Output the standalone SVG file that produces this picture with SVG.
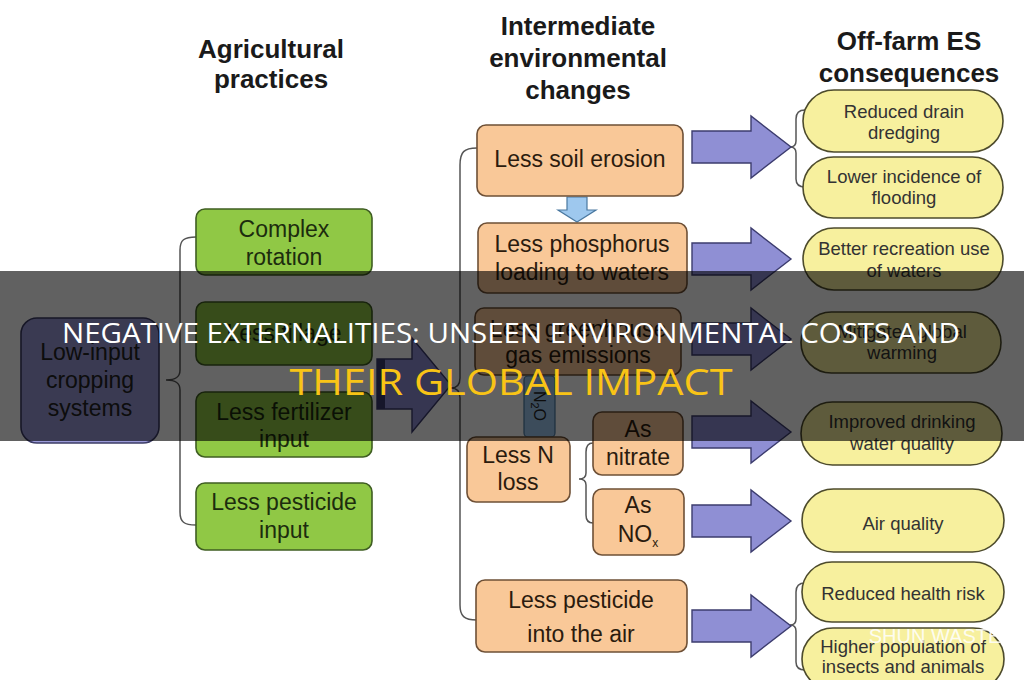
<svg xmlns="http://www.w3.org/2000/svg" width="1024" height="680" viewBox="0 0 1024 680">
<defs>
<style>
.hdr{font-family:"Liberation Sans",Arial,sans-serif;font-weight:bold;font-size:26px;fill:#1a1a1a;text-anchor:middle}
.gbox{fill:#90c845;stroke:#3f5e22;stroke-width:1.6}
.gtxt{font-family:"Liberation Sans",Arial,sans-serif;font-size:23px;fill:#1c2c0e;text-anchor:middle}
.obox{fill:#f9c898;stroke:#6e5036;stroke-width:1.6}
.otxt{font-family:"Liberation Sans",Arial,sans-serif;font-size:23px;fill:#2b1b0e;text-anchor:middle}
.pbox{fill:#9a9ad8;stroke:#3c3c66;stroke-width:1.6}
.ptxt{font-family:"Liberation Sans",Arial,sans-serif;font-size:23px;fill:#222;text-anchor:middle}
.pill{fill:#f7f09e;stroke:#4d4b2c;stroke-width:1.6}
.ytxt{font-family:"Liberation Sans",Arial,sans-serif;font-size:18.5px;fill:#333;text-anchor:middle}
.arr{fill:#8f8fd4;stroke:#3c3c6e;stroke-width:1.4}
.barr{fill:#9ec8ee;stroke:#4a78a0;stroke-width:1.2}
.brace{fill:none;stroke:#555;stroke-width:1.5}
</style>
</defs>
<rect width="1024" height="680" fill="#ffffff"/>

<g id="headers">
<text class="hdr" x="271" y="58">Agricultural</text>
<text class="hdr" x="271" y="88">practices</text>
<text class="hdr" x="578" y="35">Intermediate</text>
<text class="hdr" x="578" y="67">environmental</text>
<text class="hdr" x="578" y="99">changes</text>
<text class="hdr" x="909" y="50">Off-farm ES</text>
<text class="hdr" x="909" y="82">consequences</text>
</g>

<g id="connectors">
<path class="brace" d="M196,237 C184,237 180,240 180,250 L180,370 C180,377 176,380 166,380 C176,380 180,383 180,390 L180,512 C180,522 184,525 196,525"/>
<path class="brace" d="M477,148 C464,148 460,152 460,165 L460,378 C460,385 456,388 451,388 C456,388 460,391 460,398 L460,605 C460,616 464,620 477,620"/>
<path class="brace" d="M593,443 C588,443 586,446 586,452 L586,473 C586,477 584,479 579,479 C584,479 586,481 586,485 L586,515 C586,520 588,523 593,523"/>
<path class="brace" d="M805,110 C799,110 796,113 796,119 L796,141 C796,145 794,147 790,147 C794,147 796,149 796,153 L796,179 C796,184 799,187 805,187"/>
<path class="brace" d="M805,583 C799,583 796,586 796,592 L796,619 C796,623 794,625 790,625 C794,625 796,627 796,631 L796,662 C796,667 799,670 805,670"/>
<polygon class="arr" points="377,359 412,359 412,338 451,385 412,432 412,409 377,409"/>
<rect x="377" y="359" width="8" height="50" fill="#3c3c6e"/>
<polygon class="barr" points="567,197 587,197 587,210 596,210 577,222 558,210 567,210"/>
<polygon class="arr" points="692,131 751,131 751,116 791,147 751,178 751,163 692,163"/>
<polygon class="arr" points="692,243 751,243 751,228 791,259 751,290 751,275 692,275"/>
<polygon class="arr" points="692,323 751,323 751,308 791,339 751,370 751,355 692,355"/>
<polygon class="arr" points="692,416 751,416 751,401 791,432 751,463 751,448 692,448"/>
<polygon class="arr" points="692,505 751,505 751,490 791,521 751,552 751,537 692,537"/>
<polygon class="arr" points="692,610 751,610 751,595 791,626 751,657 751,642 692,642"/>
</g>

<g id="low-input">
<rect class="pbox" x="21" y="318" width="138" height="125" rx="16"/>
<text class="ptxt" x="90" y="360">Low-input</text>
<text class="ptxt" x="90" y="388">cropping</text>
<text class="ptxt" x="90" y="416">systems</text>
</g>

<g id="complex-rotation">
<rect class="gbox" x="196" y="209" width="176" height="66" rx="9"/>
<text class="gtxt" x="284" y="237">Complex</text>
<text class="gtxt" x="284" y="265">rotation</text>
</g>
<g id="less-tillage">
<rect class="gbox" x="196" y="302" width="176" height="63" rx="9"/>
<text class="gtxt" x="284" y="341">Less tillage</text>
</g>
<g id="less-fertilizer">
<rect class="gbox" x="196" y="392" width="176" height="65" rx="9"/>
<text class="gtxt" x="284" y="420">Less fertilizer</text>
<text class="gtxt" x="284" y="447">input</text>
</g>
<g id="less-pesticide-input">
<rect class="gbox" x="196" y="483" width="176" height="67" rx="9"/>
<text class="gtxt" x="284" y="510">Less pesticide</text>
<text class="gtxt" x="284" y="538">input</text>
</g>

<g id="soil-erosion">
<rect class="obox" x="477" y="125" width="206" height="71" rx="9"/>
<text class="otxt" x="580" y="167">Less soil erosion</text>
</g>
<g id="phosphorus">
<rect class="obox" x="478" y="223" width="209" height="70" rx="9"/>
<text class="otxt" x="582" y="252">Less phosphorus</text>
<text class="otxt" x="582" y="280">loading to waters</text>
</g>
<g id="greenhouse">
<rect class="obox" x="475" y="308" width="206" height="67" rx="9"/>
<text class="otxt" x="578" y="337">Less greenhouse</text>
<text class="otxt" x="578" y="363">gas emissions</text>
</g>
<g id="n2o">
<rect class="barr" x="524" y="376" width="31" height="61" rx="4"/>
<text font-family="Liberation Sans, Arial, sans-serif" font-size="16" fill="#222" text-anchor="middle" transform="translate(534,406) rotate(90)">N<tspan font-size="11" dy="3">2</tspan><tspan dy="-3">O</tspan></text>
</g>
<g id="less-n-loss">
<rect class="obox" x="467" y="437" width="103" height="65" rx="9"/>
<text class="otxt" x="518" y="463">Less N</text>
<text class="otxt" x="518" y="490">loss</text>
</g>
<g id="as-nitrate">
<rect class="obox" x="593" y="412" width="90" height="63" rx="9"/>
<text class="otxt" x="638" y="437">As</text>
<text class="otxt" x="638" y="465">nitrate</text>
</g>
<g id="as-nox">
<rect class="obox" x="593" y="489" width="91" height="66" rx="9"/>
<text class="otxt" x="638" y="513">As</text>
<text class="otxt" x="638" y="542">NO<tspan font-size="12" dy="5">x</tspan></text>
</g>
<g id="pesticide-air">
<rect class="obox" x="476" y="580" width="211" height="72" rx="9"/>
<text class="otxt" x="581" y="608" font-size="24">Less pesticide</text>
<text class="otxt" x="581" y="642" font-size="24">into the air</text>
</g>

<g id="drain">
<rect class="pill" x="803" y="90" width="200" height="62" rx="31"/>
<text class="ytxt" x="904" y="118">Reduced drain</text>
<text class="ytxt" x="904" y="139">dredging</text>
</g>
<g id="flooding">
<rect class="pill" x="803" y="157" width="200" height="61" rx="30.5"/>
<text class="ytxt" x="904" y="183">Lower incidence of</text>
<text class="ytxt" x="904" y="204">flooding</text>
</g>
<g id="recreation">
<rect class="pill" x="803" y="228" width="200" height="62" rx="31"/>
<text class="ytxt" x="904" y="255">Better recreation use</text>
<text class="ytxt" x="904" y="277">of waters</text>
</g>
<g id="warming">
<rect class="pill" x="801" y="312" width="200" height="61" rx="30.5"/>
<text class="ytxt" x="902" y="338">Mitigated global</text>
<text class="ytxt" x="902" y="359">warming</text>
</g>
<g id="drinking">
<rect class="pill" x="801" y="402" width="201" height="63" rx="31.5"/>
<text class="ytxt" x="902" y="428">Improved drinking</text>
<text class="ytxt" x="902" y="450">water quality</text>
</g>
<g id="air-quality">
<rect class="pill" x="802" y="489" width="202" height="63" rx="31.5"/>
<text class="ytxt" x="903" y="530">Air quality</text>
</g>
<g id="health">
<rect class="pill" x="802" y="562" width="202" height="60" rx="30"/>
<text class="ytxt" x="903" y="600">Reduced health risk</text>
</g>
<g id="insects">
<rect class="pill" x="802" y="628" width="202" height="62" rx="31"/>
<text class="ytxt" x="903" y="653">Higher population of</text>
<text class="ytxt" x="903" y="673">insects and animals</text>
</g>

<g id="watermark">
<text x="935" y="643" font-family="Liberation Sans, Arial, sans-serif" font-size="20" fill="#ffffff" fill-opacity="0.85" text-anchor="middle">SHUN WASTE</text>
</g>

<g id="title-band">
<rect x="0" y="271" width="1024" height="170" fill="#000000" fill-opacity="0.62"/>
<text x="511" y="343" font-family="Open Sans, Liberation Sans, sans-serif" font-size="28" fill="#ffffff" text-anchor="middle" textLength="898" lengthAdjust="spacingAndGlyphs">NEGATIVE EXTERNALITIES: UNSEEN ENVIRONMENTAL COSTS AND</text>
<text x="511" y="395" font-family="Open Sans, Liberation Sans, sans-serif" font-size="36" fill="#f9c416" text-anchor="middle" textLength="443" lengthAdjust="spacingAndGlyphs">THEIR GLOBAL IMPACT</text>
</g>
</svg>
